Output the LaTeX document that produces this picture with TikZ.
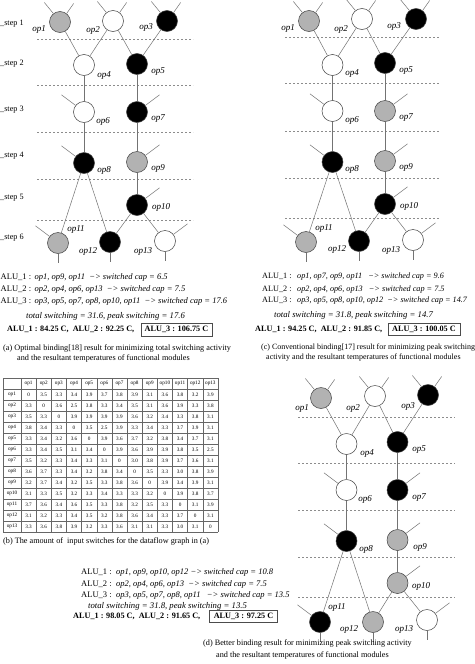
\documentclass[tikz,border=0pt]{standalone}
\usepackage{fontspec}
\setmainfont{Liberation Serif}
\begin{document}
\begin{tikzpicture}[x=1pt,y=-1pt,
  opnode/.style={circle, draw=black!75, line width=0.5pt, minimum size=21pt, inner sep=0pt},
  gr/.style={opnode, fill=black!30},
  wh/.style={opnode, fill=white},
  bk/.style={opnode, fill=black},
  conn/.style={draw=black!55, line width=0.5pt},
  sepline/.style={draw=black!45, dash pattern=on 2pt off 2pt, line width=0.5pt},
  lab/.style={font=\fontsize{9}{10}\selectfont\itshape, inner sep=0pt},
  steplab/.style={font=\fontsize{8.2}{9}\selectfont, inner sep=0pt, anchor=west},
  alu/.style={font=\fontsize{8.5}{9}\selectfont, inner sep=0pt, anchor=west},
  tot/.style={font=\fontsize{8.7}{9}\selectfont\itshape, inner sep=0pt, anchor=west},
  res/.style={font=\fontsize{8.2}{9}\selectfont\bfseries, inner sep=0pt, anchor=west},
  resbox/.style={font=\fontsize{8.2}{9}\selectfont\bfseries, draw=black!70, line width=0.5pt, inner sep=0pt, minimum height=12.5pt},
  captext/.style={font=\fontsize{8.2}{9}\selectfont, inner sep=0pt, anchor=west},
  tcell/.style={font=\fontsize{5.2}{6}\selectfont, inner sep=0pt},
  tgrid/.style={draw=black!60, line width=0.35pt}
]
\useasboundingbox (0,0) rectangle (474,664);
\fill[white] (0,0) rectangle (474,664);

% ================= (a) =================
\foreach \yy [count=\i] in {24,64,110,156,198,238}
  \node[steplab] (as\i) at (0,\yy) {\_step \i};
\foreach \yy in {39,85,132,179,220}
  \draw[sepline] (37,\yy) -- (193,\yy);

\node[gr] (a1) at (60,22) {};
\node[wh] (a2) at (113,21) {};
\node[bk] (a3) at (167,21) {};
\node[wh] (a4) at (84,65) {};
\node[bk] (a5) at (137,64) {};
\node[wh] (a6) at (84,112) {};
\node[bk] (a7) at (137,112) {};
\node[bk] (a8) at (84,163) {};
\node[gr] (a9) at (137,162) {};
\node[bk] (a10) at (137,205) {};
\node[gr] (a11) at (58,243) {};
\node[bk] (a12) at (110,242) {};
\node[wh] (a13) at (165,241) {};

\foreach \n in {a1,a2,a3} {
  \draw[conn] (\n.128) -- +(-9,-11);
  \draw[conn] (\n.52) -- +(7,-10);
}
\foreach \n in {a6,a8,a11} \draw[conn] (\n.142) -- +(-14,-10.5);
\foreach \n in {a7,a9,a10,a13} \draw[conn] (\n.38) -- +(14,-10.5);
\foreach \n in {a11,a12,a13} \draw[conn] (\n.south) -- +(0,9);
\draw[conn] (a1) -- (a4);
\draw[conn] (a2) -- (a4);
\draw[conn] (a2) -- (a5);
\draw[conn] (a3) -- (a5);
\draw[conn] (a4) -- (a6);
\draw[conn] (a5) -- (a7);
\draw[conn] (a6) -- (a8);
\draw[conn] (a7) -- (a9);
\draw[conn] (a9) -- (a10);
\draw[conn] (a8) -- (a11);
\draw[conn] (a8) -- (a12);
\draw[conn] (a10) -- (a12);
\draw[conn] (a10) -- (a13);

\node[lab] (la1) at (39,29) {op1};
\node[lab] (la2) at (93,30) {op2};
\node[lab] (la3) at (146,27) {op3};
\node[lab] (la4) at (104,75) {op4};
\node[lab] (la5) at (158,72) {op5};
\node[lab] (la6) at (103,121) {op6};
\node[lab] (la7) at (158,119) {op7};
\node[lab] (la8) at (104,170) {op8};
\node[lab] (la9) at (158,168) {op9};
\node[lab] (la10) at (161,207) {op10};
\node[lab] (la11) at (76,229) {op11};
\node[lab] (la12) at (88,251) {op12};
\node[lab] (la13) at (143,251) {op13};

\node[alu] (aA1) at (0.5,277) {\makebox[34pt][l]{ALU\_1 :}\textit{op1,\ op9,\ op11\ \ −> switched cap = 6.5}};
\node[alu] (aA2) at (0.5,289.5) {\makebox[34pt][l]{ALU\_2 :}\textit{op2,\ op4,\ op6,\ op13\ \ −> switched cap = 7.5}};
\node[alu] (aA3) at (0.5,301) {\makebox[34pt][l]{ALU\_3 :}\textit{op3,\ op5,\ op7,\ op8,\ op10,\ op11\ \ −> switched cap = 17.6}};
\node[tot] (aT) at (26,316) {total switching = 31.6, peak switching = 17.6};
\node[res] (aR) at (7,329.5) {ALU\_1 : 84.25 C,\ \ ALU\_2 : 92.25 C,};
\node[resbox, minimum width=71pt] (aB) at (176.5,329.5) {ALU\_3 : 106.75 C};
\node[captext] (aC1) at (3,348) {(a) Optimal binding[18] result for minimizing total switching activity};
\node[captext] (aC2) at (17,358) {and the resultant temperatures of functional modules};

% ================= (c) =================
\foreach \yy in {37,83,131,178,218}
  \draw[sepline] (285,\yy) -- (440,\yy);

\node[gr] (c1) at (309,21) {};
\node[wh] (c2) at (362,19) {};
\node[bk] (c3) at (416,19) {};
\node[wh] (c4) at (332.5,65) {};
\node[bk] (c5) at (385,63) {};
\node[wh] (c6) at (332.5,111) {};
\node[gr] (c7) at (385,111) {};
\node[bk] (c8) at (332.5,162) {};
\node[gr] (c9) at (385,161) {};
\node[bk] (c10) at (385,204) {};
\node[gr] (c11) at (306,242) {};
\node[bk] (c12) at (359,241) {};
\node[wh] (c13) at (413,240) {};

\foreach \n in {c1,c2,c3} {
  \draw[conn] (\n.128) -- +(-9,-11);
  \draw[conn] (\n.52) -- +(7,-10);
}
\foreach \n in {c6,c8,c11} \draw[conn] (\n.142) -- +(-14,-10.5);
\foreach \n in {c7,c9,c10,c13} \draw[conn] (\n.38) -- +(14,-10.5);
\foreach \n in {c11,c12,c13} \draw[conn] (\n.south) -- +(0,9);
\draw[conn] (c1) -- (c4);
\draw[conn] (c2) -- (c4);
\draw[conn] (c2) -- (c5);
\draw[conn] (c3) -- (c5);
\draw[conn] (c4) -- (c6);
\draw[conn, line width=0.9pt] (c5) -- (c7);
\draw[conn] (c6) -- (c8);
\draw[conn] (c7) -- (c9);
\draw[conn] (c9) -- (c10);
\draw[conn] (c8) -- (c11);
\draw[conn] (c8) -- (c12);
\draw[conn] (c10) -- (c12);
\draw[conn] (c10) -- (c13);

\node[lab] (lc1) at (288,28) {op1};
\node[lab] (lc2) at (341,29) {op2};
\node[lab] (lc3) at (394,26) {op3};
\node[lab] (lc4) at (352,73) {op4};
\node[lab] (lc5) at (406,71) {op5};
\node[lab] (lc6) at (352,120) {op6};
\node[lab] (lc7) at (406,118) {op7};
\node[lab] (lc8) at (352,169) {op8};
\node[lab] (lc9) at (406,167) {op9};
\node[lab] (lc10) at (409,206) {op10};
\node[lab] (lc11) at (324,228) {op11};
\node[lab] (lc12) at (337,249) {op12};
\node[lab] (lc13) at (391,250) {op13};

\node[alu, font=\fontsize{8.2}{9}\selectfont] (cA1) at (262,277) {\makebox[35pt][l]{ALU\_1 :}\textit{op1, op7, op9, op11\ \ \ −> switched cap = 9.6}};
\node[alu, font=\fontsize{8.2}{9}\selectfont] (cA2) at (262,289.5) {\makebox[35pt][l]{ALU\_2 :}\textit{op2, op4, op6, op13\ \ \ −> switched cap = 7.5}};
\node[alu, font=\fontsize{8.2}{9}\selectfont] (cA3) at (262,301) {\makebox[35pt][l]{ALU\_3 :}\textit{op3, op5, op8, op10, op12\ \ −> switched cap = 14.7}};
\node[tot] (cT) at (274,315) {total switching = 31.8, peak switching = 14.7};
\node[res] (cR) at (255,329) {ALU\_1 : 94.25 C,\ \ ALU\_2 : 91.85 C,};
\node[resbox, minimum width=72pt] (cB) at (424,329) {ALU\_3 : 100.05 C};
\node[captext, font=\fontsize{8}{9}\selectfont] (cC1) at (261,348) {(c) Conventional binding[17] result for minimizing peak switching};
\node[captext, font=\fontsize{8}{9}\selectfont] (cC2) at (266,358) {activity and the resultant temperatures of functional modules};

% ================= (b) table =================
\foreach \k in {0,...,14}
  \draw[tgrid] (3,378+11*\k) -- (218,378+11*\k);
\draw[tgrid] (3,378) -- (3,532);
\foreach \k in {0,...,13}
  \draw[tgrid] (21+15.15*\k,378) -- (21+15.15*\k,532);
\foreach \c in {1,...,13}
  \node[tcell] (th\c) at (21+15.15*\c-7.575,383.5) {op\c};
\foreach \r/\vals in {
  1/{0,3.5,3.3,3.4,3.9,3.7,3.8,3.9,3.1,3.6,3.8,3.2,3.9},
  2/{3.3,0,3.6,2.5,3.8,3.3,3.4,3.5,3.1,3.6,3.9,3.3,3.8},
  3/{3.5,3.3,0,3.9,3.9,3.9,3.9,3.6,3.2,3.4,3.3,3.8,3.1},
  4/{3.8,3.4,3.3,0,3.5,2.5,3.9,3.3,3.4,3.3,3.7,3.9,3.1},
  5/{3.3,3.4,3.2,3.6,0,3.9,3.6,3.7,3.2,3.8,3.4,3.7,3.1},
  6/{3.3,3.4,3.5,3.1,3.4,0,3.9,3.6,3.9,3.9,3.8,3.5,2.5},
  7/{3.5,3.2,3.3,3.4,3.3,3.1,0,3.0,3.8,3.9,3.7,3.6,3.1},
  8/{3.6,3.7,3.3,3.4,3.2,3.8,3.4,0,3.5,3.3,3.0,3.8,3.9},
  9/{3.2,3.7,3.4,3.2,3.5,3.3,3.8,3.6,0,3.9,3.4,3.9,3.1},
  10/{3.1,3.3,3.5,3.2,3.3,3.4,3.3,3.3,3.2,0,3.9,3.8,3.7},
  11/{3.7,3.6,3.4,3.6,3.5,3.3,3.8,3.2,3.5,3.3,0,3.1,3.9},
  12/{3.1,3.2,3.3,3.4,3.5,3.2,3.8,3.6,3.4,3.3,3.7,0,3.1},
  13/{3.3,3.6,3.8,3.9,3.2,3.3,3.6,3.1,3.1,3.3,3.0,3.1,0}} {
  \node[tcell] (tr\r) at (12,383.5+11*\r) {op\r};
  \foreach \v [count=\c] in \vals
    \node[tcell] (t\r-\c) at (21+15.15*\c-7.575,383.5+11*\r) {\v};
}
\node[captext] (bC) at (3,541) {(b) The amount of\ \ input switches for the dataflow graph in (a)};

% ================= (d) =================
\foreach \yy in {417,463,510,557,597}
  \draw[sepline] (298,\yy) -- (455,\yy);

\node[gr] (d1) at (321,398) {};
\node[wh] (d2) at (375,396) {};
\node[bk] (d3) at (428,395) {};
\node[wh] (d4) at (346.5,444) {};
\node[bk] (d5) at (397.5,442) {};
\node[wh] (d6) at (346.5,490) {};
\node[bk] (d7) at (397.5,490) {};
\node[bk] (d8) at (346.5,541) {};
\node[gr] (d9) at (397.5,540) {};
\node[gr] (d10) at (397.5,583) {};
\node[bk] (d11) at (320,622) {};
\node[gr] (d12) at (373,622) {};
\node[wh] (d13) at (427,620) {};

\foreach \n in {d1,d2,d3} {
  \draw[conn] (\n.128) -- +(-9,-11);
  \draw[conn] (\n.52) -- +(7,-10);
}
\foreach \n in {d6,d8,d11} \draw[conn] (\n.142) -- +(-14,-10.5);
\foreach \n in {d7,d9,d10,d13} \draw[conn] (\n.38) -- +(14,-10.5);
\foreach \n in {d11,d12,d13} \draw[conn] (\n.south) -- +(0,9);
\draw[conn] (d1) -- (d4);
\draw[conn] (d2) -- (d4);
\draw[conn] (d2) -- (d5);
\draw[conn] (d3) -- (d5);
\draw[conn] (d4) -- (d6);
\draw[conn] (d5) -- (d7);
\draw[conn] (d6) -- (d8);
\draw[conn] (d7) -- (d9);
\draw[conn] (d9) -- (d10);
\draw[conn] (d8) -- (d11);
\draw[conn] (d8) -- (d12);
\draw[conn] (d10) -- (d12);
\draw[conn] (d10) -- (d13);

\node[lab] (ld1) at (302,408) {op1};
\node[lab] (ld2) at (353,408) {op2};
\node[lab] (ld3) at (408,406) {op3};
\node[lab] (ld4) at (367,453) {op4};
\node[lab] (ld5) at (419,450) {op5};
\node[lab] (ld6) at (365,499) {op6};
\node[lab] (ld7) at (419,498) {op7};
\node[lab] (ld8) at (366,549) {op8};
\node[lab] (ld9) at (420,547) {op9};
\node[lab] (ld10) at (421,586) {op10};
\node[lab] (ld11) at (337,607) {op11};
\node[lab] (ld12) at (349,629) {op12};
\node[lab] (ld13) at (404,629) {op13};

\node[alu] (dA1) at (81,572) {\makebox[35pt][l]{ALU\_1 :}\textit{op1, op9, op10, op12 −> switched cap = 10.8}};
\node[alu] (dA2) at (81,584) {\makebox[35pt][l]{ALU\_2 :}\textit{op2, op4, op6, op13\ \ −> switched cap = 7.5}};
\node[alu] (dA3) at (81,595) {\makebox[35pt][l]{ALU\_3 :}\textit{op3, op5, op7, op8, op11\ \ \ −> switched cap = 13.5}};
\node[tot] (dT) at (88,606) {total switching = 31.8, peak switching = 13.5};
\node[res] (dR) at (73,616) {ALU\_1 : 98.05 C,\ \ ALU\_2 : 91.65 C,};
\node[resbox, minimum width=68pt] (dB) at (243.5,616) {ALU\_3 : 97.25 C};
\node[captext] (dC1) at (203,643) {(d) Better binding result for minimizing peak switching activity};
\node[captext] (dC2) at (216,655) {and the resultant temperatures of functional modules};
\end{tikzpicture}
\end{document}
